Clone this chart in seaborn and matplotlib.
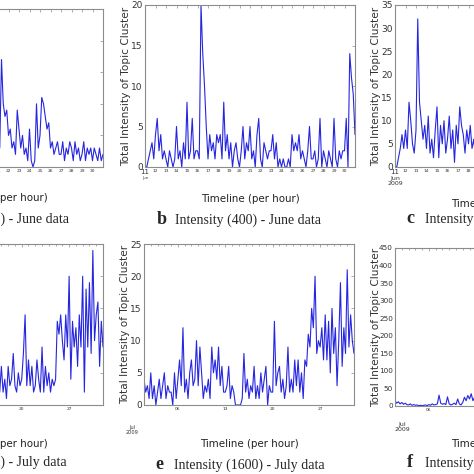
import matplotlib
matplotlib.use("Agg")
import matplotlib.pyplot as plt
import pandas as pd
import seaborn as sns

# hourly intensity (4-hour steps for June, 6-hour steps for July)
june_a = [9, 11, 13, 15, 12, 17,
          12, 3, 17, 10, 8, 9,
          5, 6, 3, 4, 2, 9,
          6, 3, 5, 2, 3, 1,
          6, 1, 0, 1, 10, 3,
          5, 11, 10, 8, 6, 7,
          3, 4, 2, 3, 4, 2,
          2, 4, 1, 3, 2, 4,
          3, 1, 4, 2, 3, 1,
          2, 4, 1, 3, 2, 3,
          1, 3, 2, 1, 3, 1,
          2]
june_b = [0, 0, 1, 2, 3, 1,
          4, 6, 2, 4, 1, 2,
          1, 0, 2, 1, 0, 1,
          5, 1, 2, 0, 3, 1,
          8, 1, 2, 6, 1, 2,
          2, 1, 20, 14, 10, 5,
          1, 4, 2, 3, 1, 4,
          3, 4, 1, 8, 2, 4,
          1, 3, 0, 2, 3, 1,
          0, 2, 5, 1, 3, 2,
          5, 1, 2, 0, 4, 6,
          1, 0, 3, 2, 1, 2,
          2, 4, 1, 3, 0, 1,
          0, 1, 0, 0, 1, 0,
          4, 2, 3, 2, 4, 1,
          2, 1, 0, 2, 5, 1,
          1, 2, 0, 1, 6, 0,
          2, 1, 0, 2, 1, 0,
          6, 1, 0, 2, 1, 2,
          2, 6, 0, 14, 11, 9,
          4]
june_c = [0, 0, 2, 4, 7, 4,
          8, 4, 14, 10, 5, 3,
          8, 32, 14, 10, 6, 9,
          4, 11, 3, 6, 2, 8,
          13, 2, 9, 5, 10, 3,
          6, 11, 4, 8, 1, 9,
          5, 13, 9, 7, 3, 8,
          5, 9, 4, 6, 2, 5,
          7, 3]
july_d = [4, 3, 9, 2,
          6, 2, 4, 1,
          6, 3, 4, 8,
          3, 2, 5, 3,
          4, 8, 14, 3,
          7, 3, 6, 2,
          3, 7, 4, 2,
          9, 2, 6, 3,
          5, 2, 4, 3,
          4, 13, 11, 14,
          10, 7, 14, 9,
          20, 4, 13, 9,
          12, 6, 14, 9,
          20, 2, 18, 9,
          19, 8, 24, 10,
          14, 16, 6, 13,
          9]
july_e = [4, 2, 3, 1,
          5, 1, 3, 0,
          2, 4, 1, 3,
          5, 1, 3, 2,
          2, 0, 5, 1,
          4, 7, 3, 12,
          2, 4, 1, 5,
          7, 3, 4, 10,
          3, 9, 5, 1,
          3, 2, 4, 1,
          9, 5, 7, 4,
          9, 3, 6, 2,
          2, 3, 6, 1,
          3, 2, 0, 0,
          0, 0, 1, 8,
          2, 4, 1, 3,
          2, 6, 1, 3,
          1, 5, 2, 4,
          6, 0, 3, 2,
          2, 13, 3, 5,
          6, 2, 4, 1,
          3, 9, 2, 4,
          2, 7, 3, 7,
          2, 5, 1, 7,
          6, 11, 9, 15,
          12, 20, 8, 10,
          9, 12, 7, 14,
          7, 13, 5, 15,
          8, 12, 3, 10,
          19, 6, 12, 8,
          21, 9, 14, 10,
          8]
july_f = [15, 8, 12, 6,
          10, 5, 8, 4,
          3, 6, 2, 4,
          2, 3, 1, 2,
          1, 2, 3, 1,
          4, 2, 6, 3,
          4, 6, 31, 8,
          5, 7, 4, 26,
          6, 3, 5, 8,
          4, 20, 6, 3,
          10, 25, 15, 30,
          20, 35, 15, 25,
          18, 30, 12, 22]

june_days = pd.date_range("2009-06-11", "2009-06-30", freq="D")
july_major = pd.to_datetime(["2009-07-06", "2009-07-13", "2009-07-20", "2009-07-27"])
july_major_labels = ["06", "13", "20", "27"]
july_days = pd.date_range("2009-07-01", "2009-07-31", freq="D")

BLUE = "#2626e0"
GREY = "#8c8c8c"
YLAB = "Total Intensity of Topic Cluster"
XLAB = "Timeline (per hour)"

sns.set_style("white")
plt.rcParams["font.family"] = ["DejaVu Sans"]
SERIF = ["Liberation Serif", "DejaVu Serif"]

fig = plt.figure(figsize=(4.74, 4.74), dpi=100)


def box(l, t, r, b):
    return [l / 474, 1 - b / 474, (r - l) / 474, (b - t) / 474]


def panel(rect, start, freq, vals, ytop, ystep, month, letter, caption,
          cap_y, xlab_y, ysize=6.5, note=None):
    ax = fig.add_axes(box(*rect))
    t = pd.date_range(start, periods=len(vals), freq=freq)
    sns.lineplot(x=t, y=vals, ax=ax, color=BLUE, linewidth=0.8)
    ax.set_ylim(0, ytop)
    ax.set_yticks(range(0, ytop + 1, ystep))
    ax.tick_params(axis="y", labelsize=ysize, pad=1.5, labelcolor="#333333")
    if month == "jun":
        ax.set_xlim(pd.Timestamp("2009-06-11"), pd.Timestamp("2009-07-01"))
        ax.set_xticks(june_days)
        ax.set_xticklabels([str(d.day) for d in june_days])
        ax.tick_params(axis="x", labelsize=3.2, pad=1.5, labelcolor="#333333")
        ax.get_xticklabels()[0].set_fontsize(5)
    else:
        ax.set_xlim(pd.Timestamp("2009-07-01"), pd.Timestamp("2009-08-01"))
        ax.set_xticks(july_major)
        ax.set_xticklabels(july_major_labels)
        ax.set_xticks(july_days, minor=True)
        ax.tick_params(axis="x", labelsize=3.2, pad=1.5, labelcolor="#333333")
    ax.tick_params(which="both", direction="in", top=True, right=True,
                   length=2.2, width=0.5, color=GREY)
    ax.tick_params(which="minor", length=1.2)
    for s in ax.spines.values():
        s.set_color(GREY)
        s.set_linewidth(0.8)
    ax.set_ylabel(YLAB, fontsize=7.6, color="#333333")
    ax.yaxis.set_label_coords(-0.068, 0.5)
    ax.set_xlabel(XLAB, fontsize=7.4, color="#222222")
    ax.xaxis.set_label_coords(0.5, xlab_y)
    ax.text(0.055, cap_y, letter, transform=ax.transAxes, fontsize=13,
            fontweight="bold", family=SERIF, va="baseline")
    ax.text(0.143, cap_y, caption, transform=ax.transAxes, fontsize=10,
            family=SERIF, va="baseline")
    if note is not None:
        txt, dx, dy, size = note
        ax.annotate(txt, xy=(0, 0), xycoords="axes fraction", xytext=(dx, dy),
                    textcoords="offset points", ha="center", va="top",
                    fontsize=size, color="#333333", linespacing=1.0)
    return ax


panel((-107, 9, 103, 167), "2009-06-20", "4h", june_a, 25, 5, "jun",
      "a", "Intensity (200) - June data", -0.352, -0.165)
panel((145, 5, 355, 167), "2009-06-11", "4h", june_b, 20, 5, "jun",
      "b", "Intensity (400) - June data", -0.352, -0.165,
      note=("Jun", 0, -6.5, 2.8))
panel((395, 5, 605, 167), "2009-06-11", "4h", june_c, 35, 5, "jun",
      "c", "Intensity (800) - June data", -0.346, -0.2,
      note=("Jun\n2009", 0, -6.5, 4.5))
panel((-107, 244, 103, 405), "2009-07-16", "6h", july_d, 25, 5, "jul",
      "d", "Intensity (800) - July data", -0.379, -0.211)
panel((144, 244, 354, 405), "2009-07-01", "6h", july_e, 25, 5, "jul",
      "e", "Intensity (1600) - July data", -0.398, -0.211,
      note=("Jul\n2009", -8.6, -14.4, 3.6))
panel((395, 248, 605, 406), "2009-07-01", "6h", july_f, 450, 50, "jul",
      "f", "Intensity (3200) - July data", -0.386, -0.211, ysize=5.2,
      note=("Jul\n2009", 5, -11.5, 4.5))

fig.savefig("out.png", dpi=100)
